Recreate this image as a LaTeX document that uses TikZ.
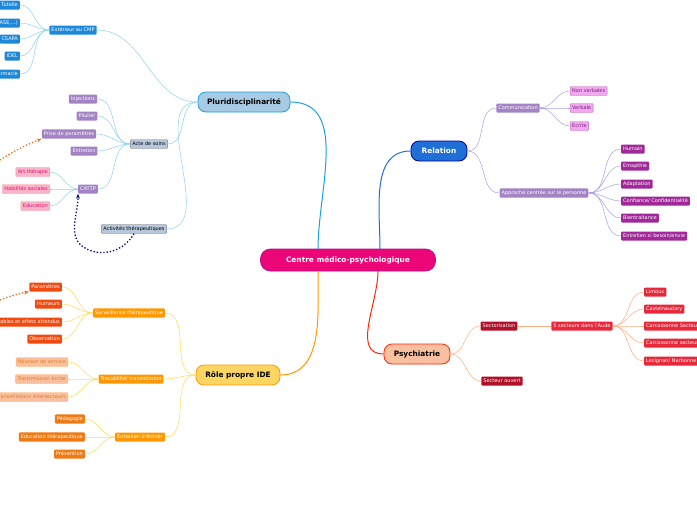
\documentclass[tikz,border=0pt]{standalone}
\usepackage{fontspec}
\setmainfont{DejaVu Sans}
\usetikzlibrary{arrows.meta}
\definecolor{cblue}{HTML}{1E88D8}
\definecolor{lblue}{HTML}{8ED0F0}
\definecolor{cpurp}{HTML}{A383C4}
\definecolor{cpink}{HTML}{F8B4C8}
\definecolor{lpink}{HTML}{F0A8F0}
\definecolor{cmag}{HTML}{A02898}
\definecolor{dred}{HTML}{B0102A}
\definecolor{cred}{HTML}{E8283A}
\definecolor{cor}{HTML}{FF9800}
\definecolor{ror}{HTML}{F04A10}
\definecolor{peach}{HTML}{F8C0A0}
\definecolor{dor}{HTML}{EE7A14}
\definecolor{gb}{HTML}{B8C8DC}
\definecolor{relb}{HTML}{1F6FD6}
\begin{document}
\begin{tikzpicture}[x=1pt,y=-1pt,
 leaf/.style={rounded corners=1pt,inner sep=2pt,minimum height=9pt,font=\fontsize{5}{6}\selectfont,text=white},
 big/.style={rounded corners=8pt,minimum height=20pt,font=\bfseries\fontsize{7.4}{8}\selectfont,draw,line width=0.8pt},
 lb/.style={lblue,line width=0.5pt},
 lv/.style={cpurp!70!blue!60,line width=0.5pt},
 lr/.style={red!30!orange!50,line width=0.5pt},
 lo/.style={orange!40!yellow!70,line width=0.5pt}]
\useasboundingbox (0,0) rectangle (697,520);
\clip (0,0) rectangle (697,520);
% main
\node[big,fill=magenta!80!red,draw=magenta!70!blue,text=white,minimum width=175pt,minimum height=22pt,rounded corners=10pt] (c) at (348,260) {Centre médico-psychologique};
\node[big,fill=gb!60!lblue,draw=cblue!80!cyan,text=black,minimum width=92pt] (pl) at (244,102) {Pluridisciplinarité};
\node[big,fill=relb,draw=blue!60!black,text=white,minimum width=56pt] (re) at (439,151) {Relation};
\node[big,fill=peach,draw=red!70!orange,text=black,minimum width=66pt] (ps) at (417,354) {Psychiatrie};
\node[big,fill=yellow!50!orange!60,draw=cor,text=black,minimum width=84pt] (ro) at (238,375) {Rôle propre IDE};
\draw[cblue!80!cyan,line width=1pt] (318,249) to[out=90,in=0] (pl.east);
\draw[relb,line width=1pt] (380,249) to[out=90,in=180] (re.west);
\draw[red!70!orange,line width=1pt] (378,271) to[out=-90,in=180] (ps.west);
\draw[cor,line width=1pt] (318,271) to[out=-90,in=0] (ro.east);
% Pluri
\node[leaf,fill=cblue] (ex) at (73,30) {Extérieur au CMP};
\node[leaf,fill=gb,draw=gray,text=black] (ac) at (149,144) {Acte de soins};
\node[leaf,fill=gb,draw=gray,text=black] (at) at (134,229) {Activités thérapeutiques};
\foreach \n in {ex,ac,at} \draw[lb] (pl.west) to[out=180,in=0] (\n.east);
\foreach \t/\y [count=\i] in {Tutelle/5,{(CMPP, ASE,...)}/23,CSAPA/39,IDEL/56,Pharmacie/74}{
 \node[leaf,fill=cblue,anchor=east] (e\i) at (20,\y) {\t};
 \draw[lb] (ex.west) to[out=180,in=0] (e\i.east);}
\foreach \t/\x/\y [count=\i] in {Injections/83/99,Pilulier/87/116,Prise de paramètres/69/134,Entretien/84/151,CATTP/88/189}{
 \node[leaf,fill=cpurp] (a\i) at (\x,\y) {\t};
 \draw[lb] (ac.west) to[out=180,in=0] (a\i.east);}
\foreach \t/\y [count=\i] in {Art thérapie/172,Habilités sociales/189,Education/206}{
 \node[leaf,fill=cpink,draw=pink!80!red,text=magenta!70!red,anchor=east] (k\i) at (50,\y) {\t};
 \draw[lb] (a5.west) to[out=180,in=0] (k\i.east);}
\draw[dor!90!red,line width=1.3pt,dotted,-{Stealth[length=5pt]}] (0,160) to[bend left=5] (a3.south west);
\draw[blue!50!black,line width=1.3pt,dotted,-{Stealth[length=5pt]}] (at.south) to[out=-120,in=-30] (85,248) to[out=150,in=-90] (a5.south west);
% Relation
\node[leaf,fill=cpurp] (co) at (518,108) {Communication};
\node[leaf,fill=cpurp] (ap) at (544,193) {Approche centrée sur le personne};
\foreach \n in {co,ap} \draw[lv] (re.east) to[out=0,in=180] (\n.west);
\foreach \t/\y [count=\i] in {Non verbales/91,Verbale/108,Ecrite/126}{
 \node[leaf,fill=lpink,draw=cmag!70,text=cmag!80!black,anchor=west] (r\i) at (570,\y) {\t};
 \draw[lv] (co.east) to[out=0,in=180] (r\i.west);}
\foreach \t/\y [count=\i] in {Humain/149,Emapthie/166,Adaptation/184,{Confiance/ Confidentialité}/201,Bientraitance/218,{Entretien si besoin/envie}/236}{
 \node[leaf,fill=cmag,anchor=west] (h\i) at (621,\y) {\t};
 \draw[lv] (ap.east) to[out=0,in=180] (h\i.west);}
% Psychiatrie
\node[leaf,fill=dred] (se) at (499,326) {Sectorisation};
\node[leaf,fill=dred] (so) at (502,381) {Secteur ouvert};
\foreach \n in {se,so} \draw[lr] (ps.east) to[out=0,in=180] (\n.west);
\node[leaf,fill=cred] (ci) at (582,326) {5 secteurs dans l'Aude};
\draw[lr] (se.east) -- (ci.west);
\foreach \t/\y [count=\i] in {Limoux/292,Castelnaudary/309,Carcassonne Secteur/326,Carcassonne secteur/343,{Lezignan/ Narbonne}/361}{
 \node[leaf,fill=cred,anchor=west] (p\i) at (644,\y) {\t};
 \draw[lr] (ci.east) to[out=0,in=180] (p\i.west);}
% Role propre
\node[leaf,fill=cor] (su) at (129,313) {Surveillance thérapeutique};
\node[leaf,fill=cor] (tr) at (131,379) {Traçabilité/ transmission};
\node[leaf,fill=cor] (en) at (140,437) {Entretien infirmier};
\foreach \n in {su,tr,en} \draw[lo] (ro.west) to[out=180,in=0] (\n.east);
\foreach \t/\y [count=\i] in {Paramètres/287,Humeurs/304,Effets indésirables et effets attendus/322,Observation/339}{
 \node[leaf,fill=ror,anchor=east] (s\i) at (62,\y) {\t};
 \draw[lo] (su.west) to[out=180,in=0] (s\i.east);}
\foreach \t/\y [count=\i] in {Réunion de service/362,Transmission écrite/379,Transmissions intersecteurs/397}{
 \node[leaf,fill=peach,draw=orange!60,text=dor,anchor=east] (t\i) at (68,\y) {\t};
 \draw[lo] (tr.west) to[out=180,in=0] (t\i.east);}
\foreach \t/\y [count=\i] in {Pédagogie/419,Education thérapeutique/437,Prévention/454}{
 \node[leaf,fill=dor,anchor=east] (n\i) at (85,\y) {\t};
 \draw[lo] (en.west) to[out=180,in=0] (n\i.east);}
\draw[dor!90!red,line width=1.3pt,dotted,-{Stealth[length=5pt]}] (0,300) to[bend left=5] (s1.south west);
\end{tikzpicture}
\end{document}
